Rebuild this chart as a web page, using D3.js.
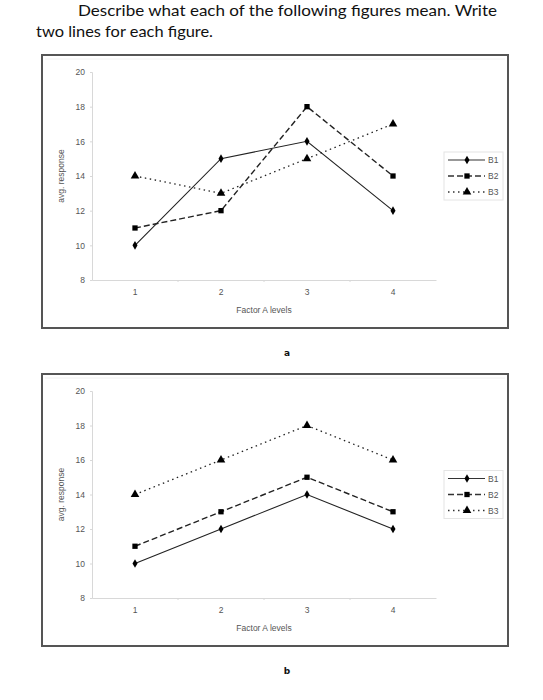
<!DOCTYPE html>
<html><head><meta charset="utf-8">
<script src="https://cdn.jsdelivr.net/npm/d3@7"></script>
<style>body{margin:0;background:#fff}svg{display:block}</style>
</head><body>
<svg id="c" width="543" height="700"></svg>
<script>
const levels = ["1","2","3","4"];
const seriesNames = ["B1","B2","B3"];
const yTicks = [8,10,12,14,16,18,20];
const aB1 = [10,15,16,12];
const aB2 = [11,12,18,14];
const aB3 = [14,13,15,17];
const bB1 = [10,12,14,12];
const bB2 = [11,13,15,13];
const bB3 = [14,16,18,16];
const headerLines = ["Describe what each of the following figures mean. Write","two lines for each figure."];
const xTitle = "Factor A levels";
const yTitle = "avg. response";
const chartLabels = ["a","b"];

const svg = d3.select("#c");
svg.append("rect").attr("width",543).attr("height",700).attr("fill","#fff");

// header
svg.append("text").attr("x",78).attr("y",16).attr("font-family","Lato, 'Open Sans', sans-serif")
  .attr("font-size",16).attr("fill","#111").attr("textLength",419).attr("lengthAdjust","spacingAndGlyphs")
  .text(headerLines[0]);
svg.append("text").attr("x",36).attr("y",37).attr("font-family","Lato, 'Open Sans', sans-serif")
  .attr("font-size",16).attr("fill","#111").attr("textLength",177).attr("lengthAdjust","spacingAndGlyphs")
  .text(headerLines[1]);

const styles = {
  B1:{dash:null, width:1.1, marker:"diamond"},
  B2:{dash:"6,3", width:1.4, marker:"square"},
  B3:{dash:"1.5,3.5", width:1.3, marker:"triangle"}
};
const symSize = {diamond:22, square:28, triangle:32};
const symType = {diamond:d3.symbolDiamond, square:d3.symbolSquare, triangle:d3.symbolTriangle};

function drawChart(frameTop, frameBottom, yTop, yBottom, data, label, labelY){
  const g = svg.append("g");
  g.append("rect").attr("x",42).attr("y",frameTop).attr("width",466).attr("height",frameBottom-frameTop)
    .attr("fill","#fff").attr("stroke","#555").attr("stroke-width",2);
  g.append("line").attr("x1",45).attr("x2",505).attr("y1",frameTop+4).attr("y2",frameTop+4)
    .attr("stroke","#f0f0f0");
  const x = d3.scaleBand().domain(levels).range([92,436]);
  const y = d3.scaleLinear().domain([8,20]).range([yBottom,yTop]);
  const font = "'Liberation Sans', Arial, sans-serif";
  // y axis
  const ya = g.append("g").attr("transform","translate(92,0)")
    .call(d3.axisLeft(y).tickValues(yTicks).tickSize(2).tickPadding(5));
  ya.select(".domain").attr("stroke","#d8d8d8");
  ya.selectAll(".tick line").attr("stroke","#d8d8d8");
  ya.selectAll("text").attr("font-family",font).attr("font-size",8.5).attr("fill","#555");
  // x axis
  const xa = g.append("g").attr("transform",`translate(0,${yBottom})`)
    .call(d3.axisBottom(x).tickSize(0).tickPadding(9));
  xa.select(".domain").attr("stroke","#d8d8d8");
  xa.selectAll("text").attr("font-family",font).attr("font-size",8.5).attr("fill","#555");
  // between-category ticks
  g.selectAll(".bt").data(levels.slice(1)).join("line")
    .attr("x1",d=>x(d)).attr("x2",d=>x(d)).attr("y1",yBottom).attr("y2",yBottom+2).attr("stroke","#d8d8d8");
  g.append("text").attr("x",(92+436)/2).attr("y",yBottom+33).attr("text-anchor","middle")
    .attr("font-family",font).attr("font-size",8.5).attr("fill","#555").text(xTitle);
  g.append("text").attr("transform",`translate(64,${(yTop+yBottom)/2}) rotate(-90)`).attr("text-anchor","middle")
    .attr("font-family",font).attr("font-size",8.5).attr("fill","#555").text(yTitle);
  const line = d3.line().x((d,i)=>x(levels[i])+x.bandwidth()/2).y(d=>y(d));
  seriesNames.forEach((name,si)=>{
    const st = styles[name];
    g.append("path").attr("d",line(data[si])).attr("fill","none").attr("stroke","#222")
      .attr("stroke-width",st.width).attr("stroke-dasharray",st.dash);
    g.selectAll(null).data(data[si]).join("path")
      .attr("transform",(d,i)=>`translate(${x(levels[i])+x.bandwidth()/2},${y(d)})`)
      .attr("d",d3.symbol().type(symType[st.marker]).size(symSize[st.marker])).attr("fill","#000");
  });
  // legend
  const ly0 = (yTop+yBottom)/2 - 16;
  g.append("rect").attr("x",444).attr("y",ly0-8).attr("width",59).attr("height",48)
    .attr("fill","#fff").attr("stroke","#e4e4e4");
  seriesNames.forEach((name,si)=>{
    const st = styles[name];
    const ly = ly0 + si*16;
    g.append("line").attr("x1",448).attr("x2",485).attr("y1",ly).attr("y2",ly).attr("stroke","#333")
      .attr("stroke-width",st.width).attr("stroke-dasharray",st.dash);
    g.append("path").attr("transform",`translate(467,${ly})`)
      .attr("d",d3.symbol().type(symType[st.marker]).size(symSize[st.marker])).attr("fill","#000");
    g.append("text").attr("x",488).attr("y",ly+3).attr("font-family",font).attr("font-size",8.5)
      .attr("fill","#555").text(name);
  });
  svg.append("text").attr("x",287).attr("y",labelY).attr("text-anchor","middle")
    .attr("font-family","'DejaVu Sans', sans-serif").attr("font-weight","bold").attr("font-size",9)
    .attr("fill","#111").text(label);
}

drawChart(55, 328, 72, 280, [aB1,aB2,aB3], chartLabels[0], 356);
drawChart(374, 646, 391, 598, [bB1,bB2,bB3], chartLabels[1], 674);
</script>
</body></html>
